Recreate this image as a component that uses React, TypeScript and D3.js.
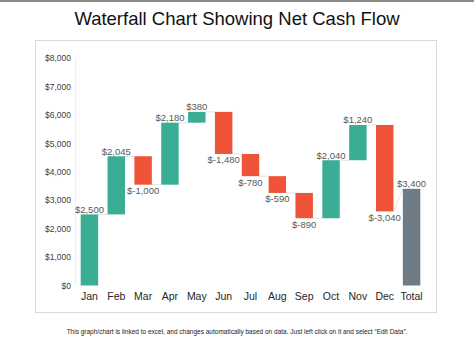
import React from "react";
import * as d3 from "d3";

const months = ["Jan", "Feb", "Mar", "Apr", "May", "Jun", "Jul", "Aug", "Sep", "Oct", "Nov", "Dec"];
const changes = [2500, 2045, -1000, 2180, 380, -1480, -780, -590, -890, 2040, 1240, -3040];
const totalLabel = "Total";
const totalValue = 3400;
const yTicks = [0, 1000, 2000, 3000, 4000, 5000, 6000, 7000, 8000];

const W = 474;
const H = 355;

export default function App() {
  const cats = [...months, totalLabel];
  const x = d3.scaleBand<string>().domain(cats).range([76, 425]).paddingInner(0.35).paddingOuter(0.175);
  const y = d3.scaleLinear().domain([0, 8000]).range([285.5, 58]);
  const fmt = d3.format(",");
  const money = (v: number) => "$" + (v < 0 ? "-" : "") + fmt(Math.abs(v));

  let run = 0;
  const bars = changes.map((c, i) => {
    const start = run;
    run += c;
    return { cat: months[i], start, end: run, value: c, kind: c >= 0 ? "up" : "down" };
  });
  const all = [...bars, { cat: totalLabel, start: 0, end: totalValue, value: totalValue, kind: "total" }];
  const color: Record<string, string> = { up: "#3aae95", down: "#ef5338", total: "#6f7c86" };
  const bw = x.bandwidth();

  return (
    <svg width={W} height={H} style={{ position: "absolute", left: 0, top: 0 }} fontFamily="Liberation Sans, Arial, sans-serif">
      <rect x={0} y={0} width={W} height={H} fill="#ffffff" />
      <rect x={0} y={0} width={W} height={2} fill="#8a8a8a" />
      <text x={237} y={24.5} textAnchor="middle" fontSize={18.5} fill="#111">Waterfall Chart Showing Net Cash Flow</text>
      <rect x={35.5} y={40.5} width={401} height={272} fill="none" stroke="#d9d9d9" strokeWidth={1} />
      <line x1={75.5} x2={75.5} y1={y(8000)} y2={y(0)} stroke="#eeeeee" strokeWidth={1} />
      {yTicks.map((t) => (
        <text key={t} x={71} y={y(t) + 3.2} textAnchor="end" fontSize={8.5} fill="#404040">
          {money(t)}
        </text>
      ))}
      {all.slice(0, -1).map((b, i) => {
        const nb = all[i + 1];
        const ny = nb.kind === "total" ? nb.end : nb.start;
        return (
          <line key={"c" + i} x1={(x(b.cat) as number) + bw} x2={x(nb.cat) as number} y1={y(b.end)} y2={y(ny)} stroke="#d9d9d9" strokeWidth={0.8} />
        );
      })}
      {all.map((b) => {
        const top = y(Math.max(b.start, b.end));
        const bot = y(Math.min(b.start, b.end));
        const cx = (x(b.cat) as number) + bw / 2;
        return (
          <g key={b.cat}>
            <rect x={x(b.cat)} y={top} width={bw} height={bot - top} fill={color[b.kind]} />
            {b.kind === "down" ? (
              <text x={cx} y={bot + 9.5} textAnchor="middle" fontSize={9.5} fill="#595959">{money(b.value)}</text>
            ) : (
              <text x={cx} y={top - 1.5} textAnchor="middle" fontSize={9.5} fill="#595959">{money(b.value)}</text>
            )}
            <text x={cx} y={300} textAnchor="middle" fontSize={10.5} fill="#262626">{b.cat}</text>
          </g>
        );
      })}
      <text x={237} y={334} textAnchor="middle" fontSize={6.5} fill="#222">
        This graph/chart is linked to excel, and changes automatically based on data. Just left click on it and select “Edit Data”.
      </text>
    </svg>
  );
}
